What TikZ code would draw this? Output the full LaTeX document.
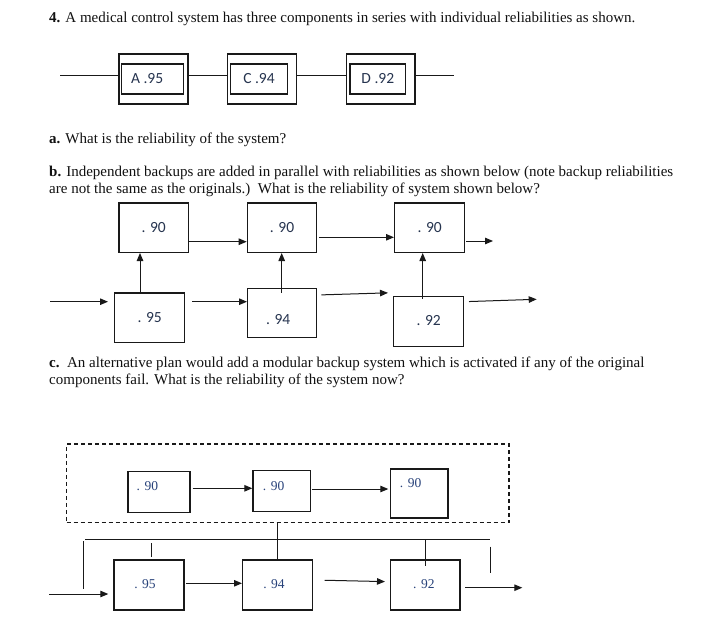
\documentclass[tikz,border=0pt]{standalone}
\usepackage{fontspec}
\setmainfont{Liberation Serif}
\newfontfamily\calfont{Carlito}
\usetikzlibrary{arrows.meta,calc}
\definecolor{txtc}{HTML}{111111}
\definecolor{labblue}{HTML}{26344F}
\definecolor{labblue2}{HTML}{28427A}
\begin{document}
\begin{tikzpicture}[x=1pt,y=-1pt,
  txt/.style={anchor=base west, inner sep=0pt, text=txtc, font=\fontsize{15}{18}\selectfont},
  box/.style={draw=black!90, line width=1.3pt, inner sep=0pt, anchor=north west},
  dbox/.style={draw=black!90, line width=1.2pt, dash pattern=on 4pt off 3pt, inner sep=0pt, anchor=north west},
  labs/.style={text=labblue, font=\calfont\fontsize{15.5}{18}\selectfont},
  labc/.style={text=labblue2, font=\fontsize{13.5}{16}\selectfont},
  ln/.style={draw=black!90, line width=1pt},
  arr/.style={draw=black!90, line width=1pt, -{Triangle[length=8pt,width=6.5pt]}}]
\useasboundingbox (0,0) rectangle (720,637);
\fill[white] (0,0) rectangle (720,637);

% ---------- text ----------
\node[txt] (q4) at (49,23) {\textbf{4.}\hspace{5pt}A medical control system has three components in series with individual reliabilities as shown.};
\node[txt] (qa) at (49,143) {\textbf{a.} What is the reliability of the system?};
\node[txt] (qb1) at (49,176.5) {\textbf{b.} Independent backups are added in parallel with reliabilities as shown below (note backup reliabilities};
\node[txt] (qb2) at (49,193.5) {are not the same as the originals.)\ \ What is the reliability of system shown below?};
\node[txt] (qc1) at (49,367.5) {\textbf{c.}\ \ An alternative plan would add a modular backup system which is activated if any of the original};
\node[txt] (qc2) at (49,384.5) {components fail. What is the reliability of the system now?};

% ---------- series ----------
\node[box, minimum width=69, minimum height=50] (Aout) at (118.3,53.3) {};
\node[box, minimum width=62.2, minimum height=30, label={[labs, anchor=west, xshift=7pt]west:A .95}] (Ain) at (120.5,63.3) {};
\node[box, minimum width=69.3, minimum height=50] (Cout) at (226.7,53.3) {};
\node[box, minimum width=56.7, minimum height=30, labs] (Cin) at (230,63.3) {C .94};
\node[box, minimum width=68.3, minimum height=50] (Dout) at (346,53.3) {};
\node[box, minimum width=55.7, minimum height=30, labs] (Din) at (349.3,63.3) {D .92};
\coordinate (ys) at (0,75.7);
\coordinate (s0) at (60,75.7);
\coordinate (s1) at (454,75.7);
\draw[ln] (s0) -- (Aout.west |- ys);
\draw[ln] (Aout.east |- ys) -- (Cout.west |- ys);
\draw[ln] (Cout.east |- ys) -- (Dout.west |- ys);
\draw[ln] (Dout.east |- ys) -- (s1);

% ---------- part b ----------
\node[box, minimum width=69.4, minimum height=49.4, labs] (T1) at (118.3,202.3) {. 90};
\node[box, minimum width=69.3, minimum height=49.4, labs] (T2) at (246.7,202.3) {. 90};
\node[box, minimum width=70, minimum height=49.4, labs] (T3) at (394,202.3) {. 90};
\node[box, minimum width=70, minimum height=49.4, labs] (B1) at (114,292.3) {. 95};
\node[box, minimum width=69, minimum height=49, label={[labs, yshift=-7pt, xshift=-4pt]center:. 94}] (B2) at (247,287.7) {};
\node[box, minimum width=70, minimum height=49.5, label={[labs, yshift=1pt]center:. 92}] (B3) at (393,296) {};
\coordinate (bin) at (50,301.7);
\coordinate (bout) at (536.7,299.3);
\coordinate (tout) at (493,241);
\draw[arr, shorten >=6pt] (bin) -- (B1.west |- bin);
\draw[arr, shorten <=6.7pt] (B1.east |- bin) -- (B2.west |- bin);
\draw[arr, shorten <=4pt, shorten >=5pt] (B2.east |- 0,295) -- (B3.west |- 0,292.7);
\draw[arr, shorten <=4.7pt] (B3.east |- 0,301.7) -- (bout);
\draw[arr] (T1.east |- 0,241.7) -- (T2.west |- 0,241.7);
\draw[arr, shorten <=1.7pt] (T2.east |- 0,237.3) -- (T3.west |- 0,237.3);
\draw[arr, shorten <=1pt] (T3.east |- 0,241) -- (tout);
\draw[arr] (B1.north -| 140,0) -- (T1.south -| 140,0);
\draw[arr, shorten <=-5pt] (B2.north -| 281.7,0) -- (T2.south -| 281.7,0);
\draw[arr, shorten <=-2.7pt] (B3.north -| 422.7,0) -- (T3.south -| 422.7,0);

% ---------- part c ----------
\node[dbox, minimum width=442.3, minimum height=78.4] (M) at (66,443.3) {};
\node[box, minimum width=62, minimum height=40.7, label={[labc, xshift=-11.6pt, yshift=6.3pt]center:. 90}] (C1) at (127.3,471) {};
\node[box, minimum width=57.7, minimum height=41, label={[labc, xshift=-8.2pt, yshift=5.5pt]center:. 90}] (C2) at (252.3,470) {};
\node[box, minimum width=57.3, minimum height=49, label={[labc, xshift=-8.7pt, yshift=10.5pt]center:. 90}] (C3) at (390,468.3) {};
\node[box, minimum width=70, minimum height=50, label={[labc, xshift=-4pt, yshift=1pt]center:. 95}] (D1) at (113.3,559.3) {};
\node[box, minimum width=69.7, minimum height=50, label={[labc, xshift=-3.5pt, yshift=1pt]center:. 94}] (D2) at (242,559.3) {};
\node[box, minimum width=69.3, minimum height=50, label={[labc, xshift=-1.4pt, yshift=1pt]center:. 92}] (D3) at (390,559.3) {};
\draw[arr, shorten <=2pt] (C1.east |- 0,488.3) -- (C2.west |- 0,488.3);
\draw[arr, shorten <=0.7pt, shorten >=1.7pt] (C2.east |- 0,489) -- (C3.west |- 0,489);
\draw[ln] (D2.north |- M.south) -- (D2.north);
\coordinate (bus0) at (85,539.5);
\coordinate (bus1) at (490,539.5);
\draw[ln] (bus0) -- (bus1);
\coordinate (lv0) at (83.3,541);
\coordinate (lv1) at (83.3,589.3);
\draw[ln] (lv0) -- (lv1);
\coordinate (tk1a) at (151,543.3);
\coordinate (tk1b) at (151,556.7);
\draw[ln] (tk1a) -- (tk1b);
\coordinate (v3) at (425,539.5);
\draw[ln] (v3) -- ++(0,26.5);
\coordinate (tk2a) at (490,546.7);
\coordinate (tk2b) at (490,573.3);
\draw[ln] (tk2a) -- (tk2b);
\coordinate (din) at (49.3,594);
\coordinate (dout) at (522.3,587.7);
\draw[arr, shorten >=5pt] (din) -- (D1.west |- din);
\draw[arr, shorten <=1.7pt] (D1.east |- 0,583.3) -- (D2.west |- 0,583.3);
\draw[arr, shorten <=11.6pt, shorten >=5pt] (D2.east |- 0,580) -- (D3.west |- 0,581.7);
\draw[arr, shorten <=4.7pt] (D3.east |- 0,587.7) -- (dout);
\end{tikzpicture}
\end{document}
